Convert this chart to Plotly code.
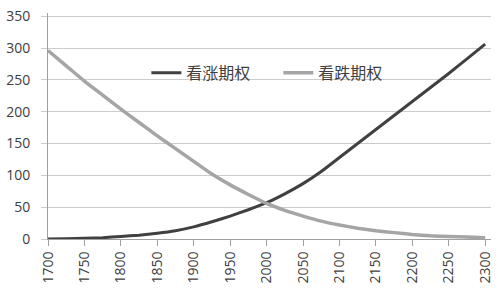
import plotly.graph_objects as go

years = [1700, 1725, 1750, 1775, 1800, 1825, 1850, 1875, 1900, 1925, 1950, 1975,
         2000, 2025, 2050, 2075, 2100, 2125, 2150, 2175, 2200, 2225, 2250, 2275, 2300]
call_values = [0, 0.5, 1, 2, 4, 6, 9, 13, 19, 27, 36, 46,
               57, 71, 87, 106, 128, 150, 172, 194, 216, 238, 260, 283, 306]
put_values = [296, 272, 248, 226, 204, 183, 162, 142, 122, 102, 85, 70,
              56, 45, 36, 28, 22, 17, 13, 10, 7, 5, 4, 3, 2]
x_ticks = list(range(1700, 2301, 50))
y_ticks = [0, 50, 100, 150, 200, 250, 300, 350]
series_names = ["看涨期权", "看跌期权"]

fig = go.Figure()
fig.add_trace(go.Scatter(x=years, y=call_values, mode="lines", name=series_names[0],
                         line=dict(color="#404040", width=3, shape="spline", smoothing=0.5)))
fig.add_trace(go.Scatter(x=years, y=put_values, mode="lines", name=series_names[1],
                         line=dict(color="#a5a5a5", width=3.5, shape="spline", smoothing=0.5)))

tick_font = dict(family="Open Sans, Noto Sans CJK SC", size=14, color="#404040")
fig.update_layout(
    width=500, height=293,
    margin=dict(l=43, r=7, t=6, b=54),
    plot_bgcolor="white", paper_bgcolor="white",
    showlegend=True,
    legend=dict(orientation="h", x=0.222, y=0.735, xanchor="left", yanchor="middle",
                font=dict(family="Noto Sans CJK SC", size=16, color="#404040"),
                bgcolor="rgba(0,0,0,0)", itemwidth=30,
                entrywidth=87, entrywidthmode="pixels"),
    xaxis=dict(range=[1700, 2308], tickvals=x_ticks, ticktext=[str(v) for v in x_ticks],
               tickangle=-90, tickfont=tick_font, showgrid=False, zeroline=False,
               showline=True, linecolor="#a0a0a0", linewidth=1,
               ticks="outside", ticklen=6, tickcolor="#a0a0a0",
               ticklabeloverflow="allow"),
    yaxis=dict(range=[0, 355], tickvals=y_ticks, ticktext=[str(v) for v in y_ticks],
               tickfont=tick_font,
               showgrid=True, gridcolor="#cccccc", gridwidth=1, zeroline=False,
               showline=True, linecolor="#a0a0a0", linewidth=1,
               ticks="outside", ticklen=6, tickcolor="#cccccc",
               ticklabelstandoff=8, ticklabeloverflow="allow"),
)

fig.write_html("out.html")
